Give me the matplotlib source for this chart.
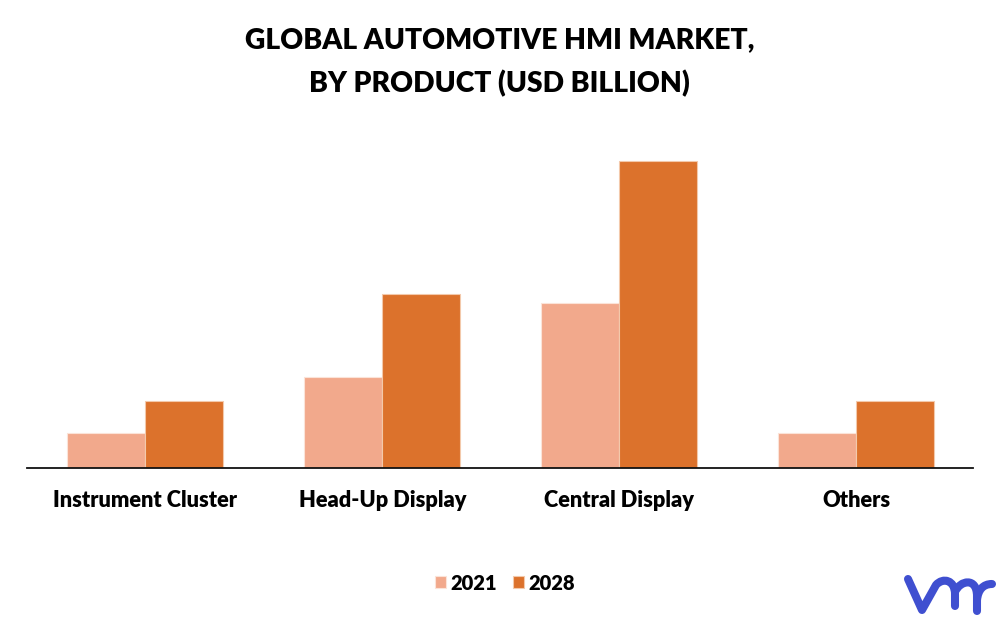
import matplotlib
matplotlib.use("Agg")
import matplotlib.pyplot as plt
from matplotlib.path import Path
from matplotlib.patches import PathPatch
import numpy as np

categories = ["Instrument Cluster", "Head-Up Display", "Central Display", "Others"]
values_2021 = [35, 91, 165, 35]
values_2028 = [67, 174, 307, 67]
years = ["2021", "2028"]

plt.rcParams['font.family'] = ['Lato', 'DejaVu Sans']
plt.rcParams['font.weight'] = 'bold'

fig = plt.figure(figsize=(9.99, 6.18), dpi=100)
ax = fig.add_axes([27 / 999, 1 - 468 / 618, 946 / 999, 320 / 618])

x = np.array([145.5, 382.5, 619, 856])
w = 78

ax.bar(x - w / 2, values_2021, w, color="#f2a98c", edgecolor="#fbe3d8", linewidth=0.8, label=years[0])
ax.bar(x + w / 2, values_2028, w, color="#dc722c", edgecolor="#f3c9ab", linewidth=0.8, label=years[1])

ax.set_xlim(27, 973)
ax.set_ylim(0, 320)
ax.set_yticks([])
ax.set_xticks(x)
ax.set_xticklabels(categories, fontsize=15.7, fontweight='heavy', color="#000000")
ax.tick_params(axis='x', length=0, pad=15.5)
for s in ['top', 'left', 'right']:
    ax.spines[s].set_visible(False)
ax.spines['bottom'].set_color("#111111")
ax.spines['bottom'].set_linewidth(1.3)

fig.text(0.5, 1 - 62.5 / 618, "GLOBAL AUTOMOTIVE HMI MARKET,\nBY PRODUCT (USD BILLION)",
         ha='center', va='center', fontsize=20.3, fontweight='heavy', linespacing=1.76, color="#000000")

leg = fig.legend(loc='center', bbox_to_anchor=(505 / 999, 1 - 583 / 618), ncol=2, frameon=False,
                 fontsize=14.5, handlelength=0.55, handleheight=0.55, handletextpad=0.2, columnspacing=0.8)
for t in leg.get_texts():
    t.set_color("#000000")
    t.set_fontweight('heavy')

# logo, drawn as strokes in pixel coordinates
def px(pts):
    return [(a / 999, 1 - b / 618) for a, b in pts]

logo_parts = [
    ([(908, 579), (922, 610), (936, 585), (943, 577), (955, 580), (955, 594), (955, 606)],
     [Path.MOVETO, Path.LINETO, Path.LINETO, Path.CURVE4, Path.CURVE4, Path.CURVE4, Path.LINETO]),
    ([(955, 592), (960, 580), (977, 577), (977, 596), (977, 611)],
     [Path.MOVETO, Path.CURVE4, Path.CURVE4, Path.CURVE4, Path.LINETO]),
    ([(977, 600), (978, 590), (983, 584), (992, 584)],
     [Path.MOVETO, Path.CURVE4, Path.CURVE4, Path.CURVE4]),
]
for pts, codes in logo_parts:
    fig.add_artist(PathPatch(Path(px(pts), codes), transform=fig.transFigure, fill=False,
                             edgecolor="#3f4fd0", linewidth=5.8, capstyle='round', joinstyle='round'))

fig.savefig("out.png", dpi=100)
